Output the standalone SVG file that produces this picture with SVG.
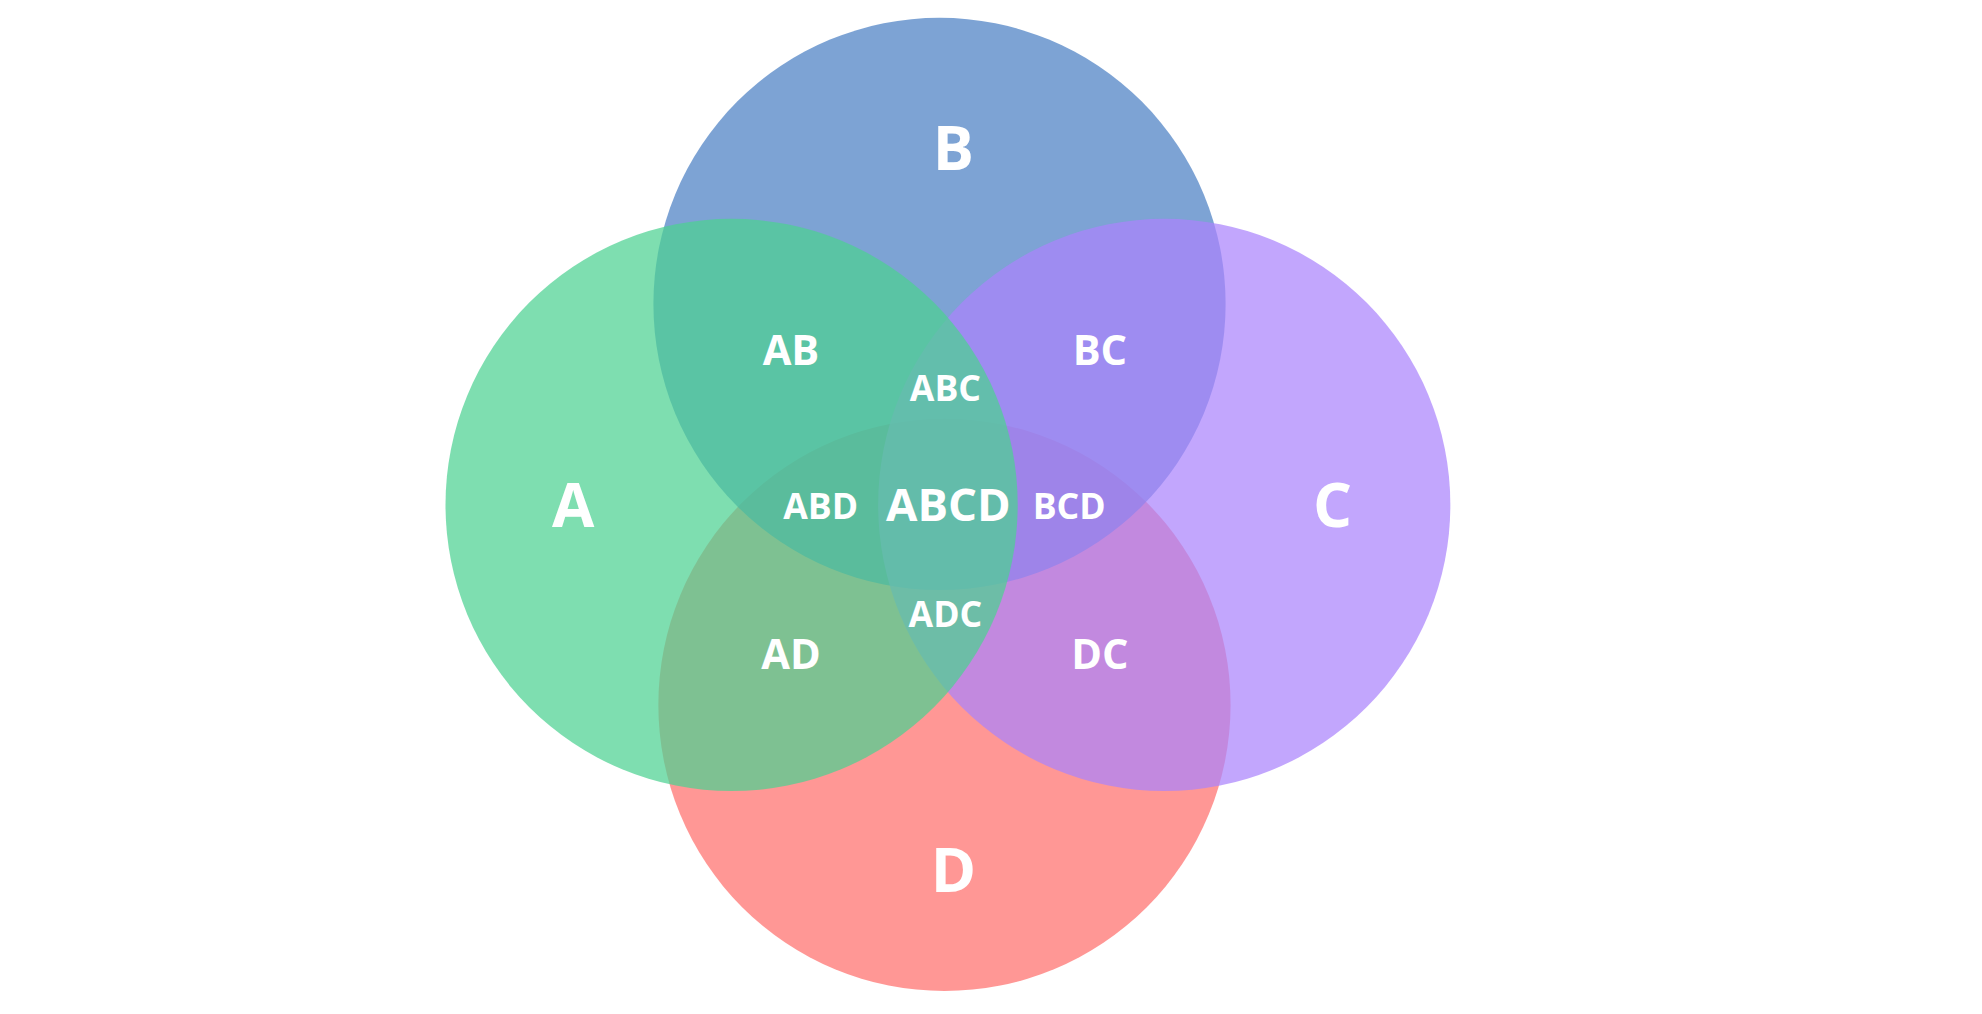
<svg xmlns="http://www.w3.org/2000/svg" width="1982" height="1014" viewBox="0 0 1982 1014">
<style>
.c{opacity:0.72}
text{fill:#fff;font-family:"Open Sans","Liberation Sans",sans-serif;font-weight:bold;text-anchor:middle;dominant-baseline:central}
.l{font-size:62px}.m{font-size:42px}.s{font-size:36px}.x{font-size:46px}
</style>
<rect width="1982" height="1014" fill="#fff"/>
<g transform="scale(0.99)">
<g id="D"><circle class="c" cx="954" cy="712" r="289" fill="#ff6f6c"/></g>
<g id="B"><circle class="c" cx="949" cy="307" r="289" fill="#4b7fc4"/></g>
<g id="C"><circle class="c" cx="1176" cy="510" r="289" fill="#ab84fc"/></g>
<g id="A"><circle class="c" cx="739" cy="510" r="289" fill="#4cd191"/></g>
<g id="connectors"/>
<g id="labels">
<text class="l" x="963" y="147">B</text>
<text class="l" x="579" y="508">A</text>
<text class="l" x="1346" y="508">C</text>
<text class="l" x="963" y="877">D</text>
<text class="m" x="799" y="353">AB</text>
<text class="m" x="1111" y="353">BC</text>
<text class="m" x="799" y="660">AD</text>
<text class="m" x="1111" y="660">DC</text>
<text class="s" x="955" y="391">ABC</text>
<text class="s" x="829" y="510">ABD</text>
<text class="s" x="1080" y="510">BCD</text>
<text class="s" x="955" y="619">ADC</text>
<text class="x" x="958" y="508">ABCD</text>
</g>
</g>
</svg>
